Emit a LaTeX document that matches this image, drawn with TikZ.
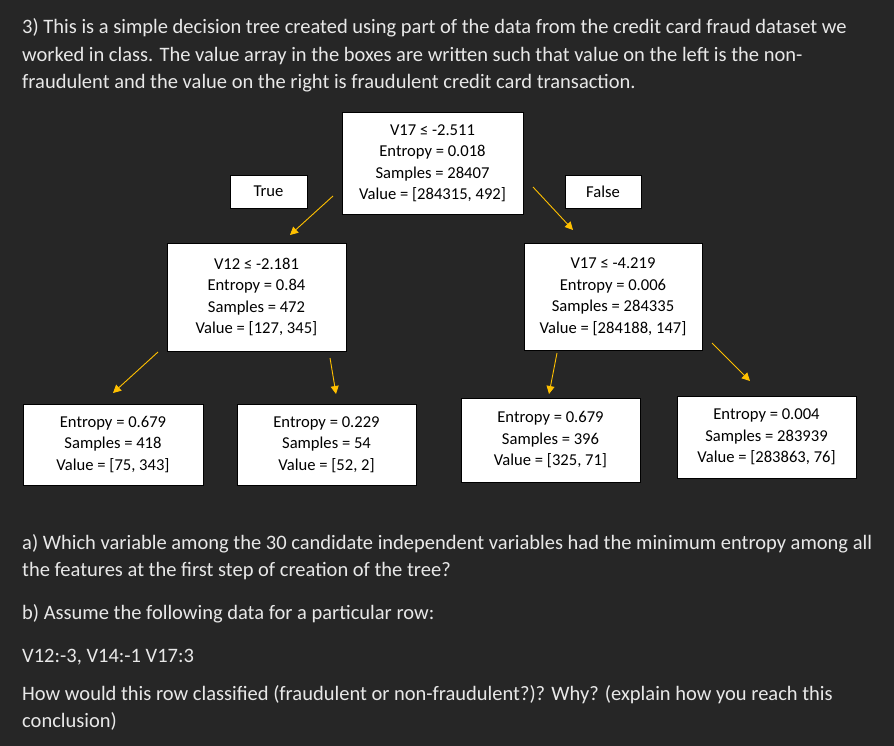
\documentclass[tikz,border=0pt]{standalone}
\usepackage{fontspec}
\setmainfont{Carlito}
\usetikzlibrary{arrows.meta}
\definecolor{bg}{HTML}{262626}
\definecolor{txt}{HTML}{E8E8E8}
\definecolor{arr}{HTML}{FFC000}
\begin{document}
\begin{tikzpicture}[x=1pt,y=-1pt,
  para/.style={anchor=west,inner sep=0,text=txt,font=\fontsize{20.5}{24}\selectfont},
  box/.style={draw=black,fill=white,inner sep=0,align=center,font=\fontsize{16.6}{21.5}\selectfont},
  conn/.style={draw=arr,line width=0.9pt,-{Triangle[length=8pt,width=8pt]}}]
\fill[bg] (0,0) rectangle (894,746);
\useasboundingbox (0,0) rectangle (894,746);
\node[para] (p1) at (22,28) {3) This is a simple decision tree created using part of the data from the credit card fraud dataset we};
\node[para] (p2) at (22,56) {worked in class. The value array in the boxes are written such that value on the left is the non-};
\node[para] (p3) at (22,83) {fraudulent and the value on the right is fraudulent credit card transaction.};

\node[box,minimum width=181,minimum height=102] (root) at (432.5,163) {V17 ≤ -2.511\\Entropy = 0.018\\Samples = 28407\\Value = [284315, 492]};
\node[box,minimum width=77,minimum height=33] (t) at (268.5,191.5) {True};
\node[box,minimum width=76,minimum height=33] (f) at (603,191.5) {False};
\node[box,minimum width=179,minimum height=108] (l) at (256.5,297) {V12 ≤ -2.181\\Entropy = 0.84\\Samples = 472\\Value = [127, 345]};
\node[box,minimum width=178,minimum height=107] (r) at (613,296.5) {V17 ≤ -4.219\\Entropy = 0.006\\Samples = 284335\\Value = [284188, 147]};
\node[box,minimum width=180,minimum height=81] (ll) at (113,444.5) {Entropy = 0.679\\Samples = 418\\Value = [75, 343]};
\node[box,minimum width=179,minimum height=81] (lr) at (326.5,444.5) {Entropy = 0.229\\Samples = 54\\Value = [52, 2]};
\node[box,minimum width=179,minimum height=84] (rl) at (550.5,440) {Entropy = 0.679\\Samples = 396\\Value = [325, 71]};
\node[box,minimum width=179,minimum height=82] (rr) at (766.5,437) {Entropy = 0.004\\Samples = 283939\\Value = [283863, 76]};

\coordinate (a1) at (333,196); \coordinate (b1) at (290,235);
\coordinate (a2) at (533,187); \coordinate (b2) at (573,230);
\coordinate (a3) at (158,352); \coordinate (b3) at (113,393);
\coordinate (a4) at (330,358); \coordinate (b4) at (336,394);
\coordinate (a5) at (557,353); \coordinate (b5) at (549,394);
\coordinate (a6) at (712,343); \coordinate (b6) at (750,381);
\foreach \i in {1,...,6} \draw[conn] (a\i) -- (b\i);

\node[para] (q1) at (22,544) {a) Which variable among the 30 candidate independent variables had the minimum entropy among all};
\node[para] (q2) at (22,571) {the features at the first step of creation of the tree?};
\node[para] (q3) at (22,614) {b) Assume the following data for a particular row:};
\node[para] (q4) at (22,657) {V12:-3, V14:-1 V17:3};
\node[para] (q5) at (22,695) {How would this row classified (fraudulent or non-fraudulent?)? Why? (explain how you reach this};
\node[para] (q6) at (22,721) {conclusion)};
\end{tikzpicture}
\end{document}
